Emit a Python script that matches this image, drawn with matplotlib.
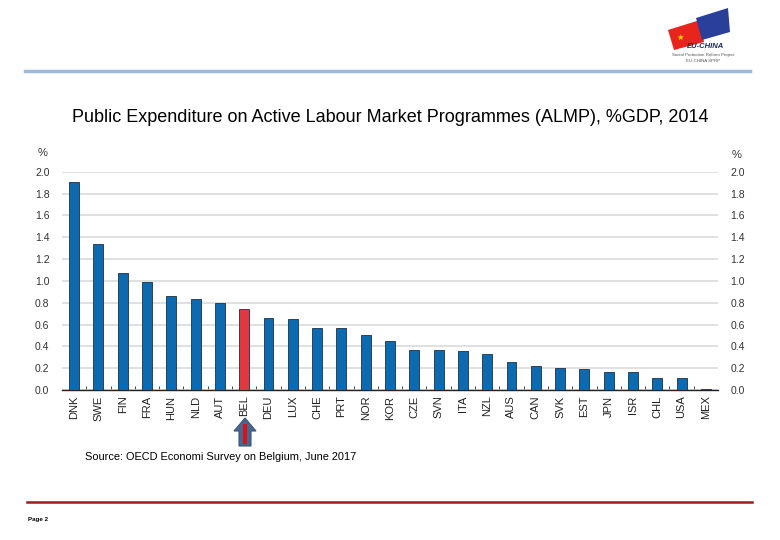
import matplotlib.pyplot as plt
from matplotlib.patches import Polygon, Rectangle
from matplotlib.lines import Line2D

plt.rcParams['font.family'] = ['Liberation Sans', 'DejaVu Sans']

countries = ['DNK', 'SWE', 'FIN', 'FRA', 'HUN', 'NLD', 'AUT', 'BEL', 'DEU', 'LUX',
             'CHE', 'PRT', 'NOR', 'KOR', 'CZE', 'SVN', 'ITA', 'NZL', 'AUS', 'CAN',
             'SVK', 'EST', 'JPN', 'ISR', 'CHL', 'USA', 'MEX']
almp = [1.91, 1.34, 1.07, 0.99, 0.86, 0.83, 0.80, 0.74, 0.66, 0.65,
        0.57, 0.57, 0.50, 0.45, 0.37, 0.37, 0.36, 0.33, 0.26, 0.22,
        0.20, 0.19, 0.165, 0.165, 0.11, 0.11, 0.01]
highlight = 'BEL'
yticks = [0.0, 0.2, 0.4, 0.6, 0.8, 1.0, 1.2, 1.4, 1.6, 1.8, 2.0]

W, H = 780, 540
fig = plt.figure(figsize=(W / 100, H / 100), dpi=100)


def fx(px):
    return px / W


def fy(py):
    return 1 - py / H


# chart
n = len(countries)
left, right, top, bottom = 62, 718, 171.7, 390
ax = fig.add_axes([fx(left), fy(bottom), fx(right - left), (bottom - top) / H])
cols = ['#e2373f' if c == highlight else '#0b6ab0' for c in countries]
ax.bar(range(n), almp, width=0.41, color=cols, edgecolor='#1d2f45', linewidth=0.6, zorder=3)
ax.set_xlim(-0.5, n - 0.5)
ax.set_ylim(0, 2.0)
ax.set_yticks(yticks)
ax.set_yticklabels(['%.1f' % v for v in yticks])
ax.yaxis.grid(True, color='#dadada', linewidth=1.2)
ax.set_axisbelow(True)
for s in ['left', 'right', 'top']:
    ax.spines[s].set_visible(False)
ax.spines['bottom'].set_color('#222222')
ax.spines['bottom'].set_linewidth(1.0)
ax.tick_params(axis='y', length=0, labelsize=7.5, labelcolor='#333333',
               labelright=True, pad=9)
ax.set_xticks(range(n))
ax.set_xticklabels(countries, rotation=90, fontsize=8, color='#222222')
ax.tick_params(axis='x', length=0, pad=4)
ax.set_xticks([i + 0.5 for i in range(n - 1)], minor=True)
ax.tick_params(axis='x', which='minor', direction='in', length=3, color='#222222')
fig.text(fx(43), fy(153), '%', fontsize=8, color='#333333', ha='center', va='center')
fig.text(fx(737), fy(155), '%', fontsize=8, color='#333333', ha='center', va='center')

# title
fig.text(fx(390), fy(117), 'Public Expenditure on Active Labour Market Programmes (ALMP), %GDP, 2014',
         fontsize=13, ha='center', va='center', color='#000000')

# source and arrow
fig.text(fx(85), fy(457), 'Source: OECD Economi Survey on Belgium, June 2017',
         fontsize=7.9, ha='left', va='center')
arrow = Polygon([[fx(234), fy(431)], [fx(245), fy(418)], [fx(256), fy(431)],
                 [fx(251), fy(431)], [fx(251), fy(446)], [fx(239), fy(446)],
                 [fx(239), fy(431)]], closed=True, transform=fig.transFigure,
                facecolor='#4a6690', edgecolor='#3b5578', linewidth=0.8)
fig.patches.append(arrow)
fig.patches.append(Rectangle((fx(243), fy(444)), fx(4), (444 - 424) / H,
                             transform=fig.transFigure, facecolor='#e01010',
                             edgecolor='none'))

# header rule and footer
fig.add_artist(Line2D([fx(25), fx(750)], [fy(71), fy(71)], color='#9db9dc', linewidth=2.5))
fig.add_artist(Line2D([fx(27), fx(752)], [fy(502), fy(502)], color='#9b1c1f', linewidth=1.8))
fig.text(fx(28), fy(519), 'Page 2', fontsize=4.5, fontweight='bold', ha='left', va='center')

# logo
fig.patches.append(Polygon([[fx(668), fy(30)], [fx(700), fy(20)], [fx(704), fy(42)],
                            [fx(674), fy(50)]], closed=True, transform=fig.transFigure,
                           facecolor='#e8251c', edgecolor='none'))
fig.patches.append(Polygon([[fx(696), fy(18)], [fx(728), fy(8)], [fx(730), fy(32)],
                            [fx(702), fy(40)]], closed=True, transform=fig.transFigure,
                           facecolor='#2a3f9a', edgecolor='none'))
fig.text(fx(680), fy(38), '\u2605', fontsize=6, color='#f5d800', ha='center', va='center')
fig.text(fx(705), fy(47), 'EU-CHINA', fontsize=5.5, fontstyle='italic', fontweight='bold',
         color='#1a2a5a', ha='center', va='center')
fig.text(fx(703), fy(55), 'Social Protection Reform Project', fontsize=3.2,
         color='#555555', ha='center', va='center')
fig.text(fx(703), fy(61), 'EU-CHINA SPRP', fontsize=3.2, color='#555555', ha='center', va='center')

fig.savefig('out.png', dpi=100)
